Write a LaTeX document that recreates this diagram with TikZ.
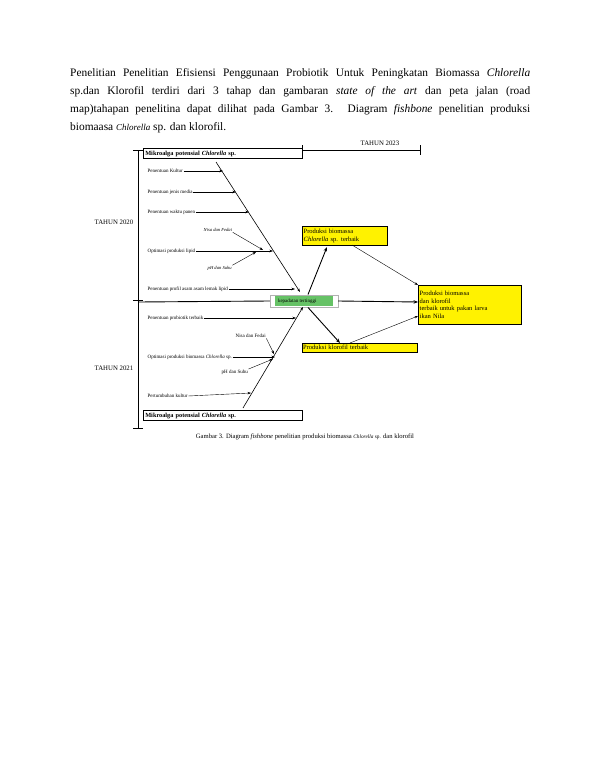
\documentclass[tikz,border=0pt]{standalone}
\usepackage{fontspec}
\setmainfont{Liberation Serif}
\usetikzlibrary{arrows.meta}
\begin{document}
\begin{tikzpicture}[x=1pt,y=-1pt,
  lbl/.style={font=\fontsize{5}{5.5}\selectfont,inner sep=0.5pt,anchor=west},
  ar/.style={-{Stealth[length=3.5pt,width=2.5pt]},line width=0.4pt},
  thk/.style={-{Stealth[length=4.5pt,width=3.5pt]},line width=0.9pt},
  ybox/.style={draw,fill=yellow,anchor=north west,inner sep=1.5pt,align=left,font=\fontsize{6.5}{7.5}\selectfont},
  tbox/.style={draw,line width=0.6pt,anchor=north west,text width=155pt,align=left,minimum height=10pt,inner sep=2pt,font=\bfseries\fontsize{6.3}{6.5}\selectfont,text depth=0pt,text height=4.5pt}]
\useasboundingbox (0,0) rectangle (600,776);
\node[anchor=north west,text width=460pt,align=justify,inner sep=0pt,font=\fontsize{11.4}{18.2}\selectfont] (para) at (70,68)
{Penelitian Penelitian Efisiensi Penggunaan Probiotik Untuk Peningkatan Biomassa \textit{Chlorella}\linebreak sp.dan Klorofil terdiri dari 3 tahap dan gambaran \textit{state of the art} dan peta jalan (road\linebreak map)tahapan penelitina dapat dilihat pada Gambar 3. Diagram \textit{fishbone} penelitian produksi\linebreak biomaasa {\fontsize{9}{10}\selectfont\textit{Chlorella}} sp. dan klorofil.};
% top
\node[tbox] (tb) at (143,148) {Mikroalga potensial \textit{Chlorella} sp.};
\coordinate (t1) at (302,150); \coordinate (t2) at (420,150);
\draw[line width=0.6pt] (t1) -- (t2);
\draw[line width=0.9pt] (302,145) -- (302,155) (420,145) -- (420,155);
\node[font=\fontsize{6.8}{7}\selectfont] (y23) at (380,143) {TAHUN 2023};
% left axis
\draw[line width=0.8pt] (138,150) -- (138,428);
\draw[line width=0.8pt] (133,150) -- (143,150) (133,300) -- (143,300) (133,428) -- (143,428);
\node[font=\fontsize{6.8}{7}\selectfont] (y20) at (114,222) {TAHUN 2020};
\node[font=\fontsize{6.8}{7}\selectfont] (y21) at (114,368) {TAHUN 2021};
% spine
\coordinate (s0) at (138,302);
\node[draw=gray!60,fill=white,inner sep=1pt,minimum width=68pt,minimum height=10pt] (kep) at (304,301)
  {\colorbox{green!60!black!60}{\makebox[52pt][l]{\fontsize{5}{5}\selectfont kepadatan tertinggi}}};
\draw[line width=0.9pt] (s0) -- (kep.west);
% right box
\node[ybox,text width=100pt,minimum height=39pt] (rb) at (418,285)
{Produksi biomassa\\dan klorofil\\terbaik untuk pakan larva\\ikan Nila};
\draw[thk] (kep.east) -- (418,302);
% upper branch
\coordinate (u0) at (216,162); \coordinate (u1) at (300,292);
\draw[ar,line width=0.6pt] (u0) -- (u1);
\node[lbl] (c1) at (147,171) {Penentuan Kultur};
\draw[ar] (c1.east) -- (223,171);
\node[lbl] (c2) at (147,192) {Penentuan jenis media};
\draw[ar] (c2.east) -- (236,192);
\node[lbl] (c3) at (147,212) {Penentuan waktu panen};
\draw[ar] (c3.east) -- (249,212);
\node[lbl] (c4) at (147,251) {Optimasi produksi lipid};
\draw[ar] (c4.east) -- (273,251);
\node[lbl,font=\itshape\fontsize{4.6}{5}\selectfont] (c4a) at (203,230) {Nisa dan Fedai};
\draw[ar] (c4a.south east) -- (263,250);
\node[lbl,font=\itshape\fontsize{4.6}{5}\selectfont] (c4b) at (207,268) {pH dan Suhu};
\draw[ar] (c4b.north east) -- (256,252);
\node[lbl] (c5) at (147,289) {Penentuan profil asam asam lemak lipid};
\draw[ar] (c5.east) -- (295,289);
% lower branch
\coordinate (l0) at (243,408); \coordinate (l1) at (303,307);
\draw[ar,line width=0.6pt] (l0) -- (l1);
\node[lbl] (d1) at (147,318) {Penentuan probiotik terbaik};
\draw[ar] (d1.east) -- (296,318);
\node[lbl] (d2) at (147,357) {Optimasi produksi biomassa \textit{Chlorella} sp.};
\draw[ar] (d2.east) -- (275,357);
\node[lbl] (d2a) at (235,336) {Nisa dan Fedai};
\draw[ar] (d2a.south east) -- (274,354);
\node[lbl] (d2b) at (221,372) {pH dan Suhu};
\draw[ar] (d2b.north east) -- (273,359);
\node[lbl] (d3) at (147,396) {Pertumbuhan kultur};
\draw[ar] (d3.east) -- (251,393);
\node[tbox] (bb) at (143,410) {Mikroalga potensial \textit{Chlorella} sp.};
% yellow boxes
\node[ybox,text width=82pt,minimum height=19pt] (yb1) at (302,226) {Produksi biomassa\\\textit{Chlorella} sp. terbaik};
\node[ybox,text width=113pt,minimum height=9pt,inner sep=1pt] (yb2) at (302,343) {Produksi klorofil terbaik};
\draw[thk] (kep.north) ++(4,0) -- (327,247);
\draw[thk] (kep.south) ++(4,0) -- (340,343);
\draw[ar] (352,245) -- (rb.north west);
\draw[ar] (350,343) -- (418,316);
% caption
\node[font=\fontsize{6.6}{7}\selectfont] (cap) at (305,437) {Gambar 3. Diagram \textit{fishbone} penelitian produksi biomassa {\fontsize{5.3}{6}\selectfont\textit{Chlorella} sp.} dan klorofil};
\end{tikzpicture}
\end{document}
